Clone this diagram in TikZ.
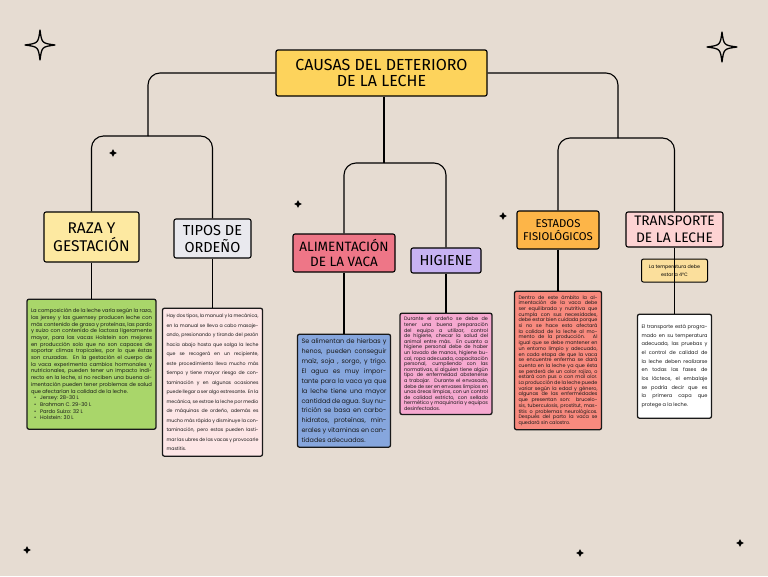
\documentclass[tikz,border=0pt]{standalone}
\usepackage{fontspec}
\setmainfont{Fira Sans}
\newfontfamily\cuerpo{Poppins}
\usetikzlibrary{positioning}

\definecolor{fondo}{HTML}{E6DCD2}
\definecolor{tituloFill}{HTML}{FDD35C}
\definecolor{razaFill}{HTML}{FDE9A1}
\definecolor{tiposFill}{HTML}{E9E9EE}
\definecolor{alimFill}{HTML}{EE7687}
\definecolor{higieneFill}{HTML}{C7B2F2}
\definecolor{estadosFill}{HTML}{FDB548}
\definecolor{transFill}{HTML}{FDD3D3}
\definecolor{notaFill}{HTML}{FBDF9C}
\definecolor{verdeFill}{HTML}{A9D66A}
\definecolor{rosaFill}{HTML}{FDE6E6}
\definecolor{azulFill}{HTML}{86A6DD}
\definecolor{fucsiaFill}{HTML}{F6A9D0}
\definecolor{salmonFill}{HTML}{F88A7E}

\tikzset{
	titulo/.style={draw=black, line width=1.2pt, rounded corners=2pt, fill=tituloFill, align=center, minimum width=211pt, minimum height=46pt, font=\fontsize{16}{15.5}\selectfont},
	tema/.style={draw=black, line width=1.1pt, rounded corners=2pt, align=center, inner sep=1pt},
	detalle/.style={draw=black!90, line width=1.3pt, rounded corners=2pt, align=justify, inner sep=4pt, text=black!90, execute at begin node={\setlength{\parindent}{0pt}\cuerpo}},
	nota/.style={draw=black, line width=1pt, rounded corners=2pt, fill=notaFill, align=center, minimum width=66pt, minimum height=23pt, font=\cuerpo\fontsize{4.8}{8}\selectfont},
	rama/.style={line width=1.1pt, rounded corners=12pt},
	destello/.pic={\draw[line width=1.3pt, line join=round] (0,-1) .. controls (0.12,-0.12) .. (1,0) .. controls (0.12,0.12) .. (0,1) .. controls (-0.12,0.12) .. (-1,0) .. controls (-0.12,-0.12) .. cycle;},
	puntito/.pic={\fill[black] (0,-1) .. controls (0.25,-0.25) .. (1,0) .. controls (0.25,0.25) .. (0,1) .. controls (-0.25,0.25) .. (-1,0) .. controls (-0.25,-0.25) .. cycle;}
}

\begin{document}
\begin{tikzpicture}[x=1pt, y=-1pt]
	\fill[fondo] (0,0) rectangle (768,576);
	\useasboundingbox (0,0) rectangle (768,576);
	
	% adornos
	\pic[scale=15] at (40,45) {destello};
	\pic[scale=15] at (722,47) {destello};
	\foreach \px/\py in {113/153, 298/204, 503/216, 27/550, 740/543, 580/553}
	\pic[scale=4] at (\px,\py) {puntito};
	
	\node[titulo] (causas) at (381.5,73) {CAUSAS DEL DETERIORO\\DE LA LECHE};
	
	\node[tema, fill=razaFill, minimum width=95pt, minimum height=50pt, font=\fontsize{15.5}{18}\selectfont] (raza) at (91.5,237) {RAZA Y\\GESTACIÓN};
	\node[tema, fill=tiposFill, minimum width=77pt, minimum height=39pt, font=\fontsize{14.5}{17}\selectfont] (tipos) at (212.5,238.5) {TIPOS DE\\ORDEÑO};
	\node[tema, fill=alimFill, minimum width=102pt, minimum height=38pt, font=\fontsize{13.5}{15}\selectfont] (alim) at (344,253) {ALIMENTACIÓN\\DE LA VACA};
	\node[tema, fill=higieneFill, minimum width=70pt, minimum height=25pt, font=\fontsize{14.5}{15}\selectfont] (higiene) at (446,260.5) {HIGIENE};
	\node[tema, fill=estadosFill, minimum width=82pt, minimum height=38pt, font=\fontsize{11.3}{13.5}\selectfont] (estados) at (558,230) {ESTADOS\\FISIOLÓGICOS};
	\node[tema, fill=transFill, minimum width=97pt, minimum height=35pt, font=\fontsize{13.8}{17}\selectfont] (transporte) at (674.5,229.5) {TRANSPORTE\\DE LA LECHE};
	
	\node[detalle, fill=verdeFill, text width=121pt, minimum height=130pt, font=\fontsize{5.2}{6.7}\selectfont] (razaText) [below=36pt of raza] {La composición de la leche varía según la raza, las jersey y las guernsey producen leche con más contenido de grasa y proteínas, las pardo y suizo con contenido de lactosa ligeramente mayor, para las vacas Holstein son mejores en producción solo que no son capaces de soportar climas tropicales, por lo que éstas son cruzadas. En la gestación el cuerpo de la vaca experimenta cambios hormonales y nutricionales, pueden tener un impacto indirecto en la leche, si no reciben una buena alimentación pueden tener problemas de salud que afectarían la calidad de la leche.\par
	\hspace*{3pt}\textbullet\hspace{4pt}Jersey: 28-30 L\par
	\hspace*{3pt}\textbullet\hspace{4pt}Brahman C. 29-30 L\par
	\hspace*{3pt}\textbullet\hspace{4pt}Pardo Suizo: 32 L\par
	\hspace*{3pt}\textbullet\hspace{4pt}Holstein: 30 L};
	
	\node[detalle, fill=rosaFill, text width=92pt, minimum height=148pt, font=\fontsize{4.7}{9.5}\selectfont] (tiposText) [below=49pt of tipos] {Hay dos tipos, la manual y la mecánica, en la manual se lleva a cabo masajeando, presionando y tirando del pezón hacia abajo hasta que salga la leche que se recogerá en un recipiente, este procedimiento lleva mucho más tiempo y tiene mayor riesgo de contaminación y en algunas ocasiones puede llegar a ser algo estresante. En la mecánica, se extrae la leche por medio de máquinas de ordeño, además es mucho más rápido y disminuye la contaminación, pero estas pueden lastimar las ubres de las vacas y provocarle mastitis.};
	
	\node[detalle, fill=azulFill, text width=85pt, minimum height=113pt, font=\fontsize{6.4}{9.9}\selectfont] (alimText) [below=61pt of alim] {Se alimentan de hierbas y henos, pueden conseguir maíz, soja , sorgo, y trigo. El agua es muy importante para la vaca ya que la leche tiene una mayor cantidad de agua. Suy nutrición se basa en carbohidratos, proteínas, minerales y vitaminas en cantidades adecuadas.};
	
	\node[detalle, fill=fucsiaFill, text width=84pt, minimum height=100pt, font=\fontsize{4.9}{5.6}\selectfont] (higieneText) [below=39pt of higiene] {Durante el ordeño se debe de tener una buena preparación del equipo a utilizar, control de higiene, checar la salud del animal entre más. En cuanto a higiene personal debe de haber un lavado de manos, higiene bucal, ropa adecuada, capacitación personal, cumpliendo con las normativas, si alguien tiene algún tipo de enfermedad abstenerse a trabajar. Durante el envasado, debe de ser en envases limpios en unas áreas limpias, con un control de calidad estricto, con sellado hermético y maquinaria y equipos desinfectados.};
	
	\node[detalle, fill=salmonFill, text width=79pt, minimum height=138pt, font=\fontsize{4.9}{5.7}\selectfont] (estadosText) [below=41pt of estados] {Dentro de este ámbito la alimentación de la vaca debe ser equilibrada y nutritiva que cumpla con sus necesidades, debe estar bien cuidada porque si no se hace esto afectará la calidad de la leche al momento de la producción. Al igual que se debe mantener en un entorno limpio y adecuado, en cada etapa de que la vaca se encuentre enferma se dará cuenta en la leche ya que ésta se perderá de un color rojizo, o estará con pus o con mal olor. La producción de la leche puede variar según la edad y género, algunas de las enfermedades que presentan son: brucelosis, tuberculosis, prostitut, mastitis o problemas neurológicos. Después del parto la vaca se quedará sin calostro.};
	
	\node[nota] (transporteNota) [below=11pt of transporte] {La temperatura debe\\estar a 4°C};
	\node[detalle, fill=white, text width=66pt, minimum height=104pt, font=\fontsize{5}{8.7}\selectfont] (transporteText) [below=31pt of transporteNota] {El transporte está programado en su temperatura adecuada, las pruebas y el control de calidad de la leche deben realizarse en todas las fases de los lácteos, el embalaje se podría decir que es la primera capa que protege a la leche.};
	
	% ramas
	\coordinate (izq) at (148,136);
	\coordinate (centro) at (384,163);
	\coordinate (der) at (618,138);
	\draw[rama] (causas.west) -| (izq);
	\draw[rama] (izq) -| (raza.north);
	\draw[rama] (izq) -| (tipos.north);
	\draw[rama] (causas.south -| centro) -- (centro);
	\draw[rama] (centro) -| (alim.north);
	\draw[rama] (centro) -| (higiene.north);
	\draw[rama] (causas.east) -| (der);
	\draw[rama] (der) -| (estados.north);
	\draw[rama] (der) -| (transporte.north);
	
	\draw[rama] (raza.south) -- (razaText.north);
	\draw[rama] (tipos.south) -- (tiposText.north);
	\draw[rama] (alim.south) -- (alimText.north);
	\draw[rama] (higiene.south) -- (higieneText.north);
	\draw[rama] (estados.south) -- (estadosText.north);
	\draw[rama] (transporte.south) -- (transporteText.north);
\end{tikzpicture}
\end{document}
